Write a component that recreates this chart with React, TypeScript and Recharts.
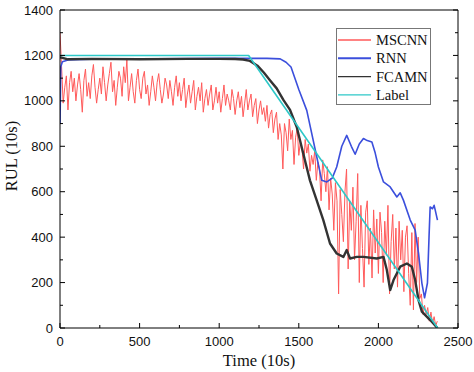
import { LineChart, Line, XAxis, YAxis, Legend } from "recharts";

// --- series ---
// MSCNN: one reading every 10 time units, 0 .. 2370
const mscnnRul = [
    1300, 1150, 990, 1060, 1110, 960, 1080, 1130, 1040, 1100,
    1000, 1070, 1120, 1050, 950, 1090, 1140, 1020, 1080, 1010,
    1110, 1160, 1060, 990, 1050, 1100, 1030, 1150, 1080, 1000,
    1070, 1120, 1170, 1040, 1090, 980, 1060, 1130, 1100, 1020,
    1150, 1080, 1180, 1000, 1060, 1120, 1040, 990, 1090, 1140,
    1050, 1010, 1100, 1130, 1030, 1070, 980, 1040, 1110, 1060,
    1000, 1080, 1120, 1050, 990, 1030, 1100, 1070, 1010, 1090,
    1040, 980, 1060, 1110, 1020, 1080, 1000, 1050, 1100, 970,
    1030, 1070, 990, 1040, 1090, 960, 1020, 1060, 1000, 1080,
    950, 1010, 1050, 980, 1030, 1070, 960, 1000, 1060, 990,
    1040, 950, 1010, 1070, 980, 1030, 1000, 960, 1050, 1010,
    940, 1000, 1040, 970, 1020, 930, 990, 1050, 960, 1000,
    1030, 930, 980, 1010, 900, 960, 1000, 940, 970, 910,
    980, 880, 940, 960, 860, 920, 950, 830, 900, 850,
    700, 900, 860, 780, 920, 830, 870, 720, 840, 880,
    760, 820, 790, 700, 830, 770, 810, 690, 760, 720,
    780, 650, 730, 700, 560, 740, 680, 600, 710, 520,
    660, 590, 430, 640, 560, 150, 610, 500, 380, 600,
    700, 260, 560, 430, 620, 300, 470, 680, 200, 540,
    350, 180, 510, 560, 280, 440, 220, 520, 330, 480,
    240, 510, 420, 200, 470, 320, 540, 150, 380, 500,
    260, 440, 180, 470, 300, 430, 160, 400, 450, 240,
    100, 420, 80, 460, 200, 400, 130, 150, 60, 100,
    60, 90, 30, 70, 20, 50, 10, 30,
];
const mscnnTime = mscnnRul.map((_, i) => i * 10);

const rnnTime = [
    0, 5, 15, 50, 200, 600, 1000, 1300, 1383, 1420, 1451, 1500, 1550, 1613, 1644, 1676,
    1710, 1738, 1770, 1801, 1830, 1854, 1880, 1906, 1930, 1959, 1980, 2000, 2032, 2074,
    2116, 2137, 2157, 2200, 2231, 2252, 2273, 2290, 2308, 2318, 2325, 2340, 2350, 2357, 2371,
];
const rnnRul = [
    900, 1150, 1172, 1180, 1183, 1185, 1187, 1187, 1185, 1170, 1149, 1050, 958, 753, 650, 643,
    660, 709, 800, 848, 800, 765, 810, 834, 825, 819, 770, 709, 643, 621,
    577, 595, 563, 475, 431, 329, 198, 133, 198, 400, 533, 525, 540, 519, 475,
];

const fcamnTime = [
    0, 50, 200, 500, 800, 1000, 1100, 1150, 1193, 1240, 1280, 1320, 1361, 1405, 1445, 1487,
    1528, 1570, 1612, 1654, 1696, 1738, 1780, 1801, 1822, 1864, 1906, 1990, 2032, 2053,
    2074, 2095, 2137, 2179, 2210, 2231, 2252, 2273, 2325, 2371,
];
const fcamnRul = [
    1192, 1183, 1185, 1183, 1185, 1185, 1184, 1182, 1176, 1155, 1125, 1090, 1055, 1002, 960, 885,
    768, 650, 563, 475, 372, 328, 313, 343, 306, 313, 313, 306, 313, 255,
    167, 211, 270, 284, 270, 211, 123, 72, 35, 0,
];

const labelTime = [0, 1185, 2372];
const labelRul = [1200, 1200, 0];

const xTicks = [0, 250, 500, 750, 1000, 1250, 1500, 1750, 2000, 2250, 2500];
const yTicks = [0, 100, 200, 300, 400, 500, 600, 700, 800, 900, 1000, 1100, 1200, 1300, 1400];

const zip = (t: number[], v: number[]) => t.map((x, i) => ({ t: x, v: v[i] }));

const series = [
    { name: "MSCNN", data: zip(mscnnTime, mscnnRul), color: "#ff5a5a", width: 1 },
    { name: "RNN", data: zip(rnnTime, rnnRul), color: "#3b4fdc", width: 1.6 },
    { name: "FCAMN", data: zip(fcamnTime, fcamnRul), color: "#333333", width: 2.4 },
    { name: "Label", data: zip(labelTime, labelRul), color: "#2ec8c8", width: 1.6 },
];

const TICK_FONT = "'Liberation Sans', Arial, sans-serif";
const TITLE_FONT = "'Liberation Serif', 'Times New Roman', serif";

const BottomTick = ({ x, y, payload }: any) => {
    const major = payload.value % 500 === 0;
    return (
        <g>
            <line x1={x} x2={x} y1={y} y2={y - (major ? 5 : 3)} stroke="#000" />
            {major && (
                <text x={x} y={y + 18} textAnchor="middle" fontSize={13} fontFamily={TICK_FONT} fill="#111">
                    {payload.value}
                </text>
            )}
        </g>
    );
};

const TopTick = ({ x, y, payload }: any) => {
    const major = payload.value % 500 === 0;
    return <line x1={x} x2={x} y1={y} y2={y + (major ? 5 : 3)} stroke="#000" />;
};

const LeftTick = ({ x, y, payload }: any) => {
    const major = payload.value % 200 === 0;
    return (
        <g>
            <line x1={x} x2={x + (major ? 5 : 3)} y1={y} y2={y} stroke="#000" />
            {major && (
                <text x={x - 7} y={y + 4.5} textAnchor="end" fontSize={13} fontFamily={TICK_FONT} fill="#111">
                    {payload.value}
                </text>
            )}
        </g>
    );
};

const RightTick = ({ x, y, payload }: any) => {
    const major = payload.value % 200 === 0;
    return <line x1={x} x2={x - (major ? 5 : 3)} y1={y} y2={y} stroke="#000" />;
};

const renderLegend = () => (
    <svg width={95} height={77} style={{ display: "block" }}>
        <rect x={0.5} y={0.5} width={94} height={76} fill="#fff" stroke="#777" />
        {series.map((s, i) => {
            const cy = 12 + i * 18.3;
            return (
                <g key={s.name}>
                    <line x1={2} x2={35} y1={cy} y2={cy} stroke={s.color} strokeWidth={s.name === "RNN" ? 2 : 1.4} />
                    <text x={40} y={cy + 5} fontSize={14.5} fontFamily={TITLE_FONT} fill="#111">
                        {s.name}
                    </text>
                </g>
            );
        })}
    </svg>
);

export default function App() {
    return (
        <div style={{ position: "absolute", left: 0, top: 0, width: 474, height: 372, background: "#fff" }}>
            <LineChart width={474} height={372} margin={{ top: 0, right: 0, bottom: 0, left: 0 }}>
                <XAxis
                    dataKey="t"
                    type="number"
                    domain={[0, 2500]}
                    ticks={xTicks}
                    interval={0}
                    allowDataOverflow
                    height={44}
                    tickSize={0}
                    tickMargin={0}
                    tickLine={false}
                    axisLine={{ stroke: "#000" }}
                    tick={<BottomTick />}
                    label={{
                        value: "Time (10s)",
                        position: "insideBottom",
                        offset: 6,
                        fontSize: 16.5,
                        fontFamily: TITLE_FONT,
                        fill: "#111",
                    }}
                />
                <XAxis
                    xAxisId="top"
                    orientation="top"
                    type="number"
                    domain={[0, 2500]}
                    ticks={xTicks}
                    interval={0}
                    allowDataOverflow
                    height={10}
                    tickSize={0}
                    tickMargin={0}
                    tickLine={false}
                    axisLine={{ stroke: "#000" }}
                    tick={<TopTick />}
                />
                <YAxis
                    type="number"
                    domain={[0, 1400]}
                    ticks={yTicks}
                    interval={0}
                    allowDataOverflow
                    width={60}
                    tickSize={0}
                    tickMargin={0}
                    tickLine={false}
                    axisLine={{ stroke: "#000" }}
                    tick={<LeftTick />}
                    label={(props: any) => {
                        const vb = props.viewBox;
                        const cx = vb.x + 17;
                        const cy = vb.y + vb.height / 2 - 13;
                        return (
                            <text
                                x={cx}
                                y={cy}
                                textAnchor="middle"
                                transform={`rotate(-90, ${cx}, ${cy})`}
                                fontSize={16.5}
                                fontFamily={TITLE_FONT}
                                fill="#111"
                            >
                                RUL (10s)
                            </text>
                        );
                    }}
                />
                <YAxis
                    yAxisId="right"
                    orientation="right"
                    type="number"
                    domain={[0, 1400]}
                    ticks={yTicks}
                    interval={0}
                    allowDataOverflow
                    width={16}
                    tickSize={0}
                    tickMargin={0}
                    tickLine={false}
                    axisLine={{ stroke: "#000" }}
                    tick={<RightTick />}
                />
                <Legend
                    layout="vertical"
                    align="center"
                    verticalAlign="middle"
                    content={renderLegend}
                    wrapperStyle={{ left: 336, top: 28, width: 95, height: 77 }}
                />
                {series.map((s) => (
                    <Line
                        key={s.name}
                        name={s.name}
                        data={s.data}
                        dataKey="v"
                        stroke={s.color}
                        strokeWidth={s.width}
                        dot={false}
                        activeDot={false}
                        isAnimationActive={false}
                        strokeLinejoin="round"
                    />
                ))}
            </LineChart>
        </div>
    );
}
